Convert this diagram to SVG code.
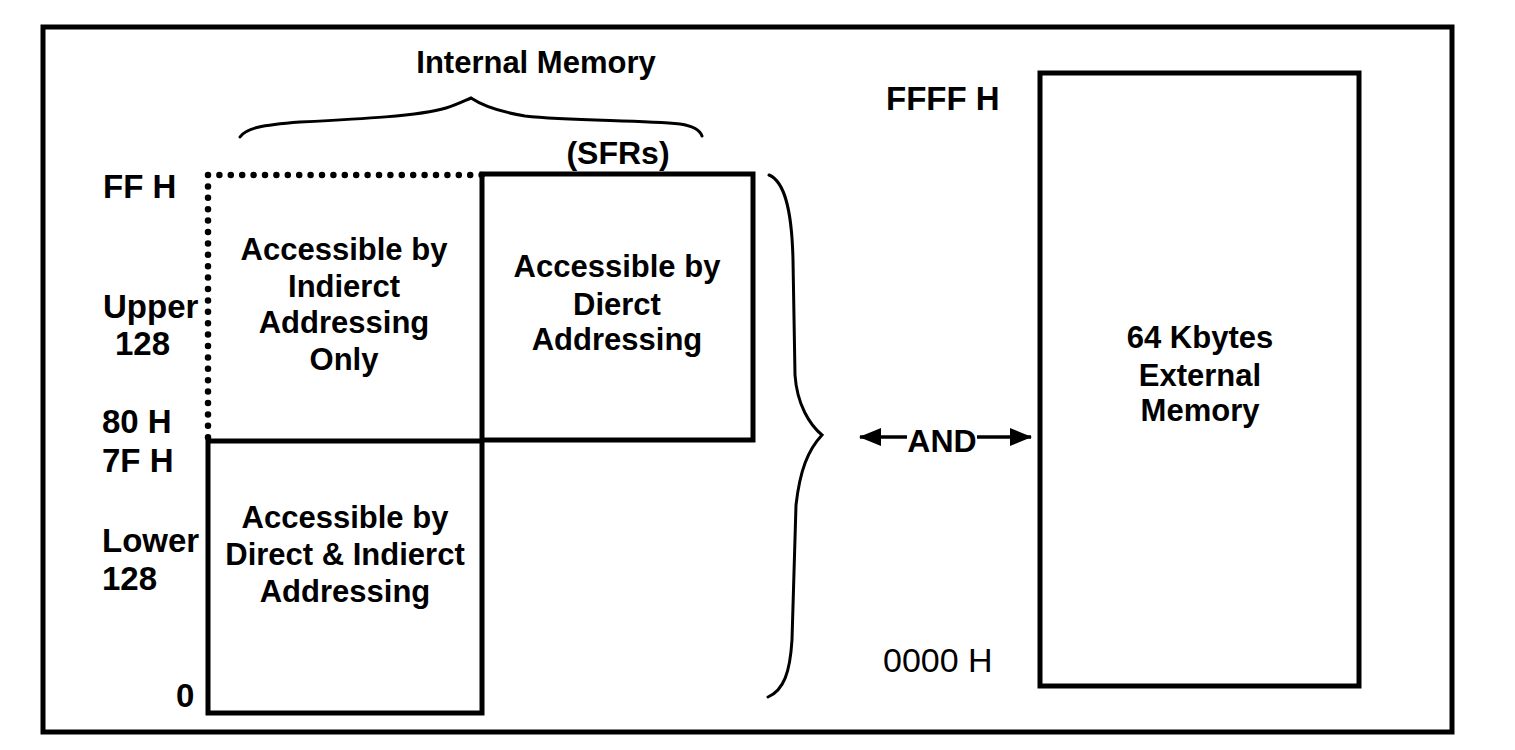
<svg xmlns="http://www.w3.org/2000/svg" width="1515" height="750" viewBox="0 0 1515 750">
  <defs>
    <style>
      .t { font-family: "Liberation Sans", Arial, sans-serif; font-weight: bold; font-size: 31px; fill: #000; }
      .c { text-anchor: middle; }
      .lbl { font-family: "Liberation Sans", Arial, sans-serif; font-weight: bold; font-size: 33px; fill: #000; }
      .box { fill: none; stroke: #000; stroke-width: 5; }
      .dot { fill: none; stroke: #000; stroke-width: 6.5; stroke-linecap: round; stroke-dasharray: 0 11.4; }
      .brace { fill: none; stroke: #000; stroke-width: 3; stroke-linecap: round; }
      .arr { fill: none; stroke: #000; stroke-width: 3.5; }
    </style>
    <marker id="ah" viewBox="0 0 22 18" refX="21" refY="9" markerWidth="22" markerHeight="18" markerUnits="userSpaceOnUse" orient="auto-start-reverse">
      <path d="M0,0 L22,9 L0,18 Z" fill="#000"/>
    </marker>
  </defs>
  <rect width="1515" height="750" fill="#fff"/>
  <g id="frame">
    <rect x="43" y="27" width="1409" height="705" class="box"/>
  </g>

  <g id="labels">
    <text class="t c" x="536" y="73">Internal Memory</text>
    <text class="t c" x="618" y="164" style="font-size:32px">(SFRs)</text>
    <text class="lbl" x="103" y="198">FF H</text>
    <text class="lbl" x="103" y="318">Upper</text>
    <text class="lbl" x="115" y="355">128</text>
    <text class="lbl" x="102" y="433">80 H</text>
    <text class="lbl" x="102" y="472">7F H</text>
    <text class="lbl" x="102" y="552">Lower</text>
    <text class="lbl" x="102" y="590">128</text>
    <text class="lbl" x="176" y="707">0</text>
    <text class="lbl" x="886" y="110">FFFF H</text>
    <text class="lbl" x="883" y="672" style="font-weight:normal;font-size:34px">0000 H</text>
  </g>

  <g id="upper-indirect">
    <path class="dot" d="M208,175 L483,175 M208,175 L208,441"/>
    <text class="t c" x="344" y="260">Accessible by</text>
    <text class="t c" x="344" y="297">Indierct</text>
    <text class="t c" x="344" y="333">Addressing</text>
    <text class="t c" x="344" y="370">Only</text>
  </g>

  <g id="sfr-direct">
    <rect x="482" y="174" width="271" height="266" class="box"/>
    <text class="t c" x="617" y="277">Accessible by</text>
    <text class="t c" x="617" y="315">Dierct</text>
    <text class="t c" x="617" y="350">Addressing</text>
  </g>

  <g id="lower-128">
    <rect x="208" y="441" width="274" height="272" class="box"/>
    <text class="t c" x="345" y="528">Accessible by</text>
    <text class="t c" x="345" y="565">Direct &amp; Indierct</text>
    <text class="t c" x="345" y="602">Addressing</text>
  </g>

  <g id="external-memory">
    <rect x="1040" y="73" width="319" height="613" class="box"/>
    <text class="t c" x="1200" y="348">64 Kbytes</text>
    <text class="t c" x="1200" y="386">External</text>
    <text class="t c" x="1200" y="421">Memory</text>
  </g>

  <g id="connectors">
    <path class="brace" d="M240,137 C246,128 262,125 300,122 C360,119 420,116 446,108 C456,105 464,101 471,98 C480,104 495,111 525,116 C570,121 640,120 680,124 C694,126 700,130 702,136"/>
    <path class="brace" d="M769,175 C786,182 792,215 793,260 L795,375 C797,405 810,425 822,435 C808,450 800,470 796,505 L792,640 C790,672 784,690 768,697"/>
    <line class="arr" x1="860" y1="437" x2="907" y2="437" marker-start="url(#ah)"/>
    <line class="arr" x1="977" y1="437" x2="1031" y2="437" marker-end="url(#ah)"/>
    <text class="t c" x="942" y="452" style="font-size:32px">AND</text>
  </g>
</svg>
